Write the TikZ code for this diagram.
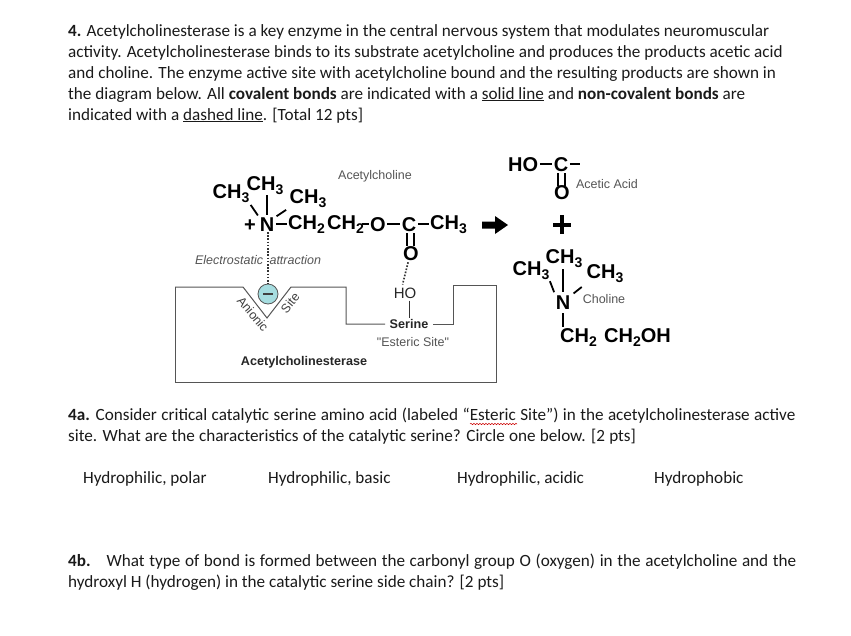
\documentclass[tikz,border=0pt]{standalone}
\usepackage{fontspec}
\setmainfont{Carlito}
\newfontfamily\chemfont{Liberation Sans}
\usetikzlibrary{decorations.pathmorphing}
\definecolor{txt}{HTML}{1A1A1A}
\definecolor{lab}{HTML}{555555}
\definecolor{line}{HTML}{555555}
\definecolor{ionfill}{HTML}{A6DDE0}
\newcommand{\bodyfs}{\fontsize{17.15}{18}\selectfont}
\newcommand{\ul}[1]{\underline{#1}}
\tikzset{
  x=1pt,y=-1pt,
  body/.style={anchor=base west,inner sep=0pt,text=txt,font=\bodyfs},
  atom/.style={inner sep=0pt,font=\chemfont\bfseries\fontsize{20}{20}\selectfont,text=black},
  sm/.style={inner sep=0pt,font=\chemfont\fontsize{12.5}{13}\selectfont,text=lab},
  smb/.style={inner sep=0pt,font=\chemfont\bfseries\fontsize{12.6}{13}\selectfont,text=black!85},
  site/.style={inner sep=0pt,font=\chemfont\fontsize{12.5}{13}\selectfont,text=black!75},
  bond/.style={line width=1.8pt,black},
  hbond/.style={line width=1.5pt,black,shorten <=1.5pt,shorten >=1.5pt},
  thin bond/.style={line width=1pt,black!80},
  dots/.style={line width=1.6pt,black!80,dash pattern=on 1.6pt off 1.6pt},
  outline/.style={line width=1pt,line},
}
\newcommand{\sub}[1]{\raisebox{-4pt}{\fontsize{14}{14}\selectfont #1}}
\begin{document}
\begin{tikzpicture}
\useasboundingbox (0,0) rectangle (851,635);
\fill[white] (0,0) rectangle (851,635);
% question text
\node[body] (l1) at (68,36) {\textbf{4.} Acetylcholinesterase is a key enzyme in the central nervous system that modulates neuromuscular};
\node[body] (l2) at (68,57) {activity. Acetylcholinesterase binds to its substrate acetylcholine and produces the products acetic acid};
\node[body] (l3) at (68,78) {and choline. The enzyme active site with acetylcholine bound and the resulting products are shown in};
\node[body] (l4) at (68,99) {the diagram below. All \textbf{covalent bonds} are indicated with a \ul{solid line} and \textbf{non-covalent bonds} are};
\node[body] (l5) at (68,120) {indicated with a \ul{dashed line}. [Total 12 pts]};
% enzyme outline
\draw[outline] (175,287) -- (243,287) -- (267,318) -- (291,287) -- (346,287) -- (346,324) -- (385,324);
\draw[outline] (433,324) -- (453,324) -- (453,285) -- (496,285) -- (496,382) -- (175,382) -- (175,287);
% acetylcholine
\node[atom] (tme) at (265,186) {CH\sub{3}};
\node[atom] (lme) at (231,194) {CH\sub{3}};
\node[atom] (rme) at (308,199) {CH\sub{3}};
\node[atom] (n1) at (267,225) {N};
\node[atom] (pl) at (250,226) {+};
\node[atom,anchor=west] (ch1) at (288,225) {CH\sub{2}};
\node[atom,anchor=west] (ch2) at (327,225) {CH\sub{2}};
\node[atom] (o1) at (378,225) {O};
\node[atom] (c1) at (409,225) {C};
\node[atom,anchor=west] (me) at (430,225) {CH\sub{3}};
\node[atom] (o2) at (411,254) {O};
\draw[bond,shorten <=3pt] (n1.north) -- (n1.north |- tme.south);
\draw[bond,shorten <=3pt,shorten >=2pt] (n1.north west) -- (lme.south east);
\draw[bond,shorten <=3pt,shorten >=4pt] (n1.45) -- (rme.205);
\draw[hbond] (n1.east |- 0,224) -- (ch1.west |- 0,224);
\draw[hbond] (ch2.east |- 0,224) ++(-4,0) -- (o1.west |- 0,224);
\draw[hbond] (o1.east |- 0,224) -- (c1.west |- 0,224);
\draw[hbond] (c1.east |- 0,224) -- (me.west |- 0,224);
\draw[bond] (407,233) -- (407,246);
\draw[bond] (414,233) -- (414,246);
% serine
\node[inner sep=0pt,font=\chemfont\fontsize{15}{15}\selectfont,text=black!85] (ho) at (405,293) {HO};
\node[smb] (ser) at (409,324) {Serine};
\node[sm] (est) at (413,342) {"Esteric Site"};
\draw[thin bond,shorten <=2pt,shorten >=1pt] (ho.south -| ser) -- (ser.north);
\draw[dots,shorten <=1pt,shorten >=3pt] (o2.250) -- (ho.120);
% anionic site
\node[circle,draw=line,fill=ionfill,minimum size=20pt,inner sep=0pt,line width=.8pt] (ion) at (268,294) {};
\draw[line width=1.2pt,black!75] (263,294) -- (273,294);
\draw[dots] (n1.south -| ion) -- (ion.north);
\node[site,rotate=-50] (an) at (253,314) {Anionic};
\node[site,rotate=50] (si) at (290,303) {Site};
% labels
\node[sm] (ach) at (375,176) {Acetylcholine};
\node[sm,font=\chemfont\itshape\fontsize{12.5}{13}\selectfont] (el) at (258,260) {Electrostatic \hspace{3pt}attraction};
\node[smb] (ache) at (304,362) {Acetylcholinesterase};
% arrow and plus
\fill[black] (482,221.5) -- (495,221.5) -- (495,216) -- (508,225) -- (495,234) -- (495,228.5) -- (482,228.5) -- cycle;
\draw[line width=4pt] (553,225) -- (571,225) (562,215) -- (562,234);
% acetic acid
\node[atom,anchor=west] (ho2) at (508,165) {HO};
\node[atom] (c2) at (561,165) {C};
\node[atom] (o3) at (562,193) {O};
\coordinate (cfree) at (581,164);
\draw[hbond] (ho2.east |- 0,164) -- (c2.west |- 0,164);
\draw[hbond] (c2.east |- 0,164) -- (cfree);
\draw[bond] (558,173) -- (558,186);
\draw[bond] (565,173) -- (565,186);
\node[sm] (aa) at (607,184) {Acetic Acid};
% choline
\node[atom] (t2) at (564,259) {CH\sub{3}};
\node[atom] (l2a) at (531,271) {CH\sub{3}};
\node[atom] (r2) at (605,274) {CH\sub{3}};
\node[atom] (n2) at (563,303) {N};
\node[atom,anchor=west] (b1) at (560,338) {CH\sub{2}};
\node[atom,anchor=west] (b2) at (604,338) {CH\sub{2}OH};
\draw[bond,shorten <=4pt,shorten >=1pt] (n2.north) -- (n2.north |- t2.south);
\draw[bond,shorten <=4pt,shorten >=1pt] (n2.north west) -- (l2a.south east);
\draw[bond,shorten <=4pt,shorten >=6pt] (n2.north east) -- (r2.south west);
\draw[bond,shorten <=3pt,shorten >=2pt] (n2.south) -- (n2.south |- b1.north);
\node[sm] (ch) at (604,299) {Choline};
% 4a
\node[body] (a1) at (68,420) {\spaceskip=4.4pt\textbf{4a.} Consider critical catalytic serine amino acid (labeled “Esteric Site”) in the acetylcholinesterase active};
\draw[red!80!black,line width=.5pt,decorate,decoration={snake,amplitude=.7pt,segment length=3pt}] (470,424) -- (517,424);
\node[body] (a2) at (68,441) {\spaceskip=4.15pt site. What are the characteristics of the catalytic serine? Circle one below. [2 pts]};
\node[body] (o1a) at (83,483) {Hydrophilic, polar};
\node[body] (o2a) at (268,483) {Hydrophilic, basic};
\node[body] (o3a) at (457,483) {Hydrophilic, acidic};
\node[body] (o4a) at (654,483) {Hydrophobic};
\node[body] (b1a) at (68,566) {\spaceskip=4.65pt\textbf{4b.}\hspace{10pt} What type of bond is formed between the carbonyl group O (oxygen) in the acetylcholine and the};
\node[body] (b2a) at (68,587) {hydroxyl H (hydrogen) in the catalytic serine side chain? [2 pts]};
\end{tikzpicture}
\end{document}
